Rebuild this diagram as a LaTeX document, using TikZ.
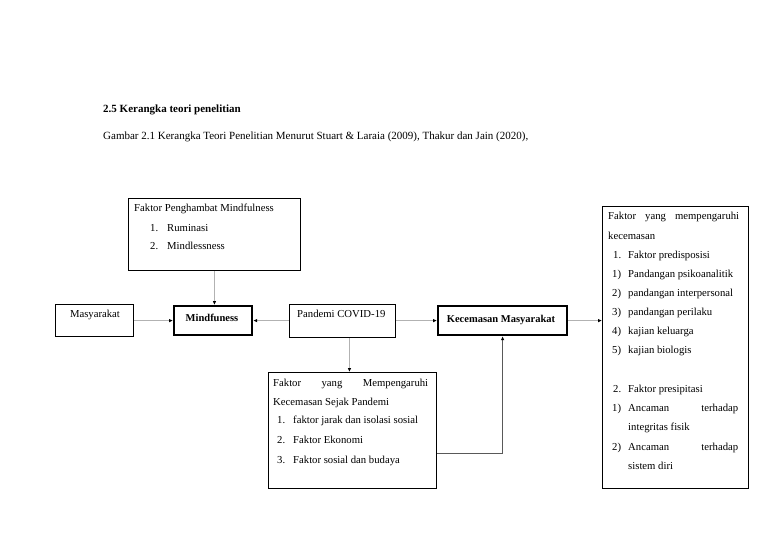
\documentclass[tikz,border=0pt]{standalone}
\usepackage{fontspec}
\setmainfont{Liberation Serif}
\usetikzlibrary{arrows.meta}
\begin{document}
\begin{tikzpicture}[x=1pt,y=-1pt,
  thinbox/.style={draw=black,line width=0.9pt,anchor=north west,inner sep=0pt},
  thickbox/.style={draw=black,line width=2.2pt,anchor=north west,inner sep=0pt},
  txt/.style={anchor=base west,inner sep=0pt,font=\fontsize{10.7}{12}\selectfont},
  btxt/.style={anchor=base,inner sep=0pt,font=\fontsize{10.5}{12}\selectfont\bfseries},
  conn/.style={draw=black!30,line width=1pt,-{Latex[length=4pt,width=3.6pt,color=black]}},
  conndark/.style={draw=black!65,line width=1pt,-{Latex[length=4pt,width=3.6pt,color=black]}}]
\useasboundingbox (0,0) rectangle (768,543);
\fill[white] (0,0) rectangle (768,543);

% header
\node[anchor=base west,inner sep=0pt,font=\fontsize{11}{13}\selectfont\bfseries] (h1) at (103,112) {2.5 Kerangka teori penelitian};
\node[anchor=base west,inner sep=0pt,font=\fontsize{11}{13}\selectfont] (h2) at (103,139) {Gambar 2.1 Kerangka Teori Penelitian Menurut Stuart \& Laraia (2009), Thakur dan Jain (2020),};

% boxes
\node[thinbox,minimum width=172pt,minimum height=72pt] (ph) at (128,198) {};
\node[thinbox,minimum width=78pt,minimum height=32pt] (masy) at (55,304) {};
\node[thickbox,minimum width=78pt,minimum height=29pt] (mind) at (173,305) {};
\node[thinbox,minimum width=106pt,minimum height=33pt] (pand) at (289,304) {};
\node[thickbox,minimum width=129pt,minimum height=29pt] (kec) at (437,305) {};
\node[thinbox,minimum width=168pt,minimum height=116pt] (bot) at (268,372) {};
\node[thinbox,minimum width=146pt,minimum height=282pt] (rb) at (602,206) {};

% top box text
\node[txt] (ph1) at (134,211) {Faktor Penghambat Mindfulness};
\node[txt] (ph2n) at (150,231) {1.};
\node[txt] (ph2) at (167,231) {Ruminasi};
\node[txt] (ph3n) at (150,249) {2.};
\node[txt] (ph3) at (167,249) {Mindlessness};

% single boxes text
\node[anchor=base,inner sep=0pt,font=\fontsize{10.7}{12}\selectfont] (masyt) at (95,317) {Masyarakat};
\node[btxt] (mindt) at (212,321) {Mindfuness};
\node[txt] (pandt) at (297,317) {Pandemi COVID-19};
\node[btxt] (kect) at (501,322) {Kecemasan Masyarakat};

% bottom box text
\node[txt] (b1) at (273,386) {\hbox to 155pt{Faktor\hfill yang\hfill Mempengaruhi}};
\node[txt] (b2) at (273,405) {Kecemasan Sejak Pandemi};
\node[txt] (b3n) at (277,423) {1.};
\node[txt] (b3) at (293,423) {faktor jarak dan isolasi sosial};
\node[txt] (b4n) at (277,443) {2.};
\node[txt] (b4) at (293,443) {Faktor Ekonomi};
\node[txt] (b5n) at (277,463) {3.};
\node[txt] (b5) at (293,463) {Faktor sosial dan budaya};

% right box text
\node[txt] (r1) at (608,219) {\hbox to 131pt{Faktor\hfill yang\hfill mempengaruhi}};
\node[txt] (r2) at (608,239) {kecemasan};
\node[txt] (r3n) at (613,258) {1.};
\node[txt] (r3) at (628,258) {Faktor predisposisi};
\node[txt] (r4n) at (612,277) {1)};
\node[txt] (r4) at (628,277) {Pandangan psikoanalitik};
\node[txt] (r5n) at (612,296) {2)};
\node[txt] (r5) at (628,296) {pandangan interpersonal};
\node[txt] (r6n) at (612,315) {3)};
\node[txt] (r6) at (628,315) {pandangan perilaku};
\node[txt] (r7n) at (612,334) {4)};
\node[txt] (r7) at (628,334) {kajian keluarga};
\node[txt] (r8n) at (612,353) {5)};
\node[txt] (r8) at (628,353) {kajian biologis};
\node[txt] (r9n) at (613,392) {2.};
\node[txt] (r9) at (628,392) {Faktor presipitasi};
\node[txt] (r10n) at (612,411) {1)};
\node[txt] (r10) at (628,411) {\hbox to 110pt{Ancaman\hfill terhadap}};
\node[txt] (r11) at (628,430) {integritas fisik};
\node[txt] (r12n) at (612,450) {2)};
\node[txt] (r12) at (628,450) {\hbox to 110pt{Ancaman\hfill terhadap}};
\node[txt] (r13) at (628,469) {sistem diri};

% connectors
\draw[conn] (ph.south) -- (ph.south |- mind.north);
\draw[conn] (masy.east |- mind.west) -- (mind.west);
\draw[conn] (pand.west |- mind.east) -- (mind.east);
\draw[conn] (pand.east |- kec.west) -- (kec.west);
\draw[conn] (kec.east) -- (kec.east -| rb.west);
\coordinate (pdown) at ([xshift=-3pt]bot.north);
\draw[conn] (pdown |- pand.south) -- (pdown);
\coordinate (bout) at ([yshift=-23pt]bot.east);
\draw[conndark] (bout) -| (kec.south);
\end{tikzpicture}
\end{document}
